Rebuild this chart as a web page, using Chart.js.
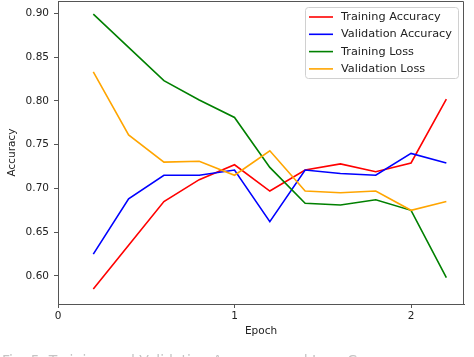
<!DOCTYPE html>
<html>
<head>
<meta charset="utf-8">
<script src="https://cdn.jsdelivr.net/npm/chart.js@4"></script>
<style>
  html, body { margin: 0; padding: 0; background: #fff; overflow: hidden; }
  #wrap { position: relative; width: 474px; height: 357px; overflow: hidden; }
  #cap { position: absolute; left: 2px; top: 352px; font: 14px "DejaVu Sans", sans-serif; color: #c4c4c4; white-space: nowrap; }
</style>
</head>
<body>
<div id="wrap">
  <canvas id="c" width="474" height="357"></canvas>
  <div id="cap">Fig. 5: Training and Validation Accuracy and Loss Curves</div>
</div>
<script>
const epochs = [0.2, 0.4, 0.6, 0.8, 1.0, 1.2, 1.4, 1.6, 1.8, 2.0, 2.2];
const trainingAccuracy   = [0.585, 0.635, 0.685, 0.710, 0.727, 0.697, 0.721, 0.728, 0.719, 0.729, 0.802];
const validationAccuracy = [0.625, 0.688, 0.715, 0.715, 0.721, 0.662, 0.721, 0.717, 0.715, 0.740, 0.729];
const trainingLoss       = [0.899, 0.861, 0.823, 0.801, 0.781, 0.724, 0.683, 0.681, 0.687, 0.675, 0.598];
const validationLoss     = [0.833, 0.761, 0.730, 0.731, 0.715, 0.743, 0.697, 0.695, 0.697, 0.675, 0.685];
const seriesLabels = ["Training Accuracy", "Validation Accuracy", "Training Loss", "Validation Loss"];
const seriesColors = ["#ff0000", "#0000ff", "#008000", "#ffa500"];
const xTicks = [0, 1, 2];
const yTicks = [0.60, 0.65, 0.70, 0.75, 0.80, 0.85, 0.90];
const xLabel = "Epoch";
const yLabel = "Accuracy";

const seriesValues = [trainingAccuracy, validationAccuracy, trainingLoss, validationLoss];
const FONT = "'DejaVu Sans', sans-serif";
const AX = "#555";

const frame = {
  id: 'frame',
  afterDatasetsDraw(chart) {
    const { ctx, chartArea: a } = chart;
    ctx.save();
    ctx.strokeStyle = AX;
    ctx.lineWidth = 1;
    ctx.beginPath();
    ctx.moveTo(Math.round(a.left), Math.round(a.top) + 0.5);
    ctx.lineTo(Math.round(a.right) - 0.5, Math.round(a.top) + 0.5);
    ctx.lineTo(Math.round(a.right) - 0.5, Math.round(a.bottom));
    ctx.stroke();
    // legend
    const bx = a.right - 159, by = a.top + 6, bw = 153, bh = 71;
    ctx.fillStyle = "rgba(255,255,255,0.85)";
    ctx.strokeStyle = "#d0d0d0";
    ctx.beginPath();
    if (ctx.roundRect) ctx.roundRect(bx + 0.5, by + 0.5, bw, bh, 3); else ctx.rect(bx + 0.5, by + 0.5, bw, bh);
    ctx.fill(); ctx.stroke();
    ctx.font = "11.3px " + FONT;
    ctx.textBaseline = "middle";
    chart.data.datasets.forEach((ds, i) => {
      const y = by + 10 + i * 17.3;
      ctx.strokeStyle = ds.borderColor;
      ctx.lineWidth = 1.6;
      ctx.beginPath(); ctx.moveTo(bx + 4, y); ctx.lineTo(bx + 28, y); ctx.stroke();
      ctx.fillStyle = "#222";
      ctx.fillText(ds.label, bx + 36, y);
    });
    ctx.restore();
  }
};

new Chart(document.getElementById('c'), {
  type: 'line',
  data: {
    datasets: seriesLabels.map((lab, i) => ({
      label: lab,
      data: epochs.map((x, j) => ({ x, y: seriesValues[i][j] })),
      borderColor: seriesColors[i],
      backgroundColor: seriesColors[i],
      borderWidth: 1.6,
      pointRadius: 0,
      tension: 0,
      fill: false,
      order: seriesLabels.length - 1 - i
    }))
  },
  options: {
    responsive: false,
    animation: false,
    devicePixelRatio: 1,
    layout: { padding: { top: 1, right: 10, bottom: 19, left: 6 } },
    plugins: { legend: { display: false }, tooltip: { enabled: false } },
    scales: {
      x: {
        type: 'linear', min: 0, max: 2.3,
        afterBuildTicks: s => { s.ticks = xTicks.map(v => ({ value: v })); },
        afterFit: s => { s.height = 34; s.paddingLeft = 0; s.paddingRight = 0; },
        grid: { display: true, drawOnChartArea: false, drawTicks: true, tickLength: 4, color: AX },
        border: { display: true, color: AX, width: 1 },
        ticks: { color: "#222", font: { family: FONT, size: 10.5 }, padding: 2, maxRotation: 0, callback: v => String(v) },
        title: { display: true, text: xLabel, color: "#222", font: { family: FONT, size: 10.5 }, padding: { top: 2, bottom: 0 } }
      },
      y: {
        type: 'linear', min: 0.568, max: 0.914,
        afterBuildTicks: s => { s.ticks = yTicks.map(v => ({ value: v })); },
        afterFit: s => { s.width = 52; s.paddingTop = 0; s.paddingBottom = 0; },
        grid: { display: true, drawOnChartArea: false, drawTicks: true, tickLength: 4, color: AX },
        border: { display: true, color: AX, width: 1 },
        ticks: { color: "#222", font: { family: FONT, size: 10.5 }, padding: 5, callback: v => v.toFixed(2) },
        title: { display: true, text: yLabel, color: "#222", font: { family: FONT, size: 10.5 }, padding: { top: 0, bottom: 4 } }
      }
    }
  },
  plugins: [frame]
});
</script>
</body>
</html>
